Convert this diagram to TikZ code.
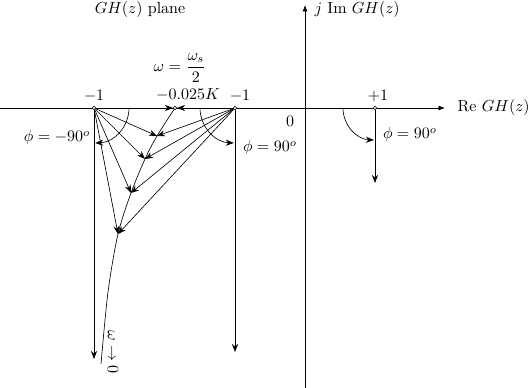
\documentclass[tikz,border=0pt]{standalone}
\usepackage{amsmath, amssymb}
\usetikzlibrary{arrows.meta}

\begin{document}
\begin{tikzpicture}[
  x=0.625pt, y=0.625pt,
  dot/.style={circle, draw, fill=white, inner sep=0pt, minimum size=2.2pt},
  edge/.style={-{Stealth[length=5pt, width=3.8pt]}},
  axis/.style={-{Latex[length=4pt, width=3pt]}}
]
\useasboundingbox (0,0) rectangle (528,-388);

% axes
\coordinate (xl) at (0,-108);
\coordinate (xr) at (445,-108);
\coordinate (yb) at (305,-388);
\coordinate (yt) at (305,-5);
\draw[axis] (xl) -- (xr);
\draw[axis] (yb) -- (yt);
\node[right] (re) at (452,-108) {Re $GH(z)$};
\node[right] (im) at (309,-10) {$j$ Im $GH(z)$};
\node (plane) at (140,-10) {$GH(z)$ plane};
\node (zero) at (290,-121) {$0$};

% points on the real axis
\coordinate (P1) at (157,-136);
\coordinate (P2) at (145,-159);
\coordinate (P3) at (131,-193);
\coordinate (P4) at (118,-234);
\coordinate (Q) at (108,-292);
\coordinate (E) at (101,-364);
\draw plot[smooth] coordinates {(175,-108) (P1) (P2) (P3) (P4) (Q) (E)};

\node[dot] (A) at (94,-108) {};
\node[dot] (B) at (235,-108) {};
\node[dot] (K) at (175,-108) {};
\node[dot] (U) at (375,-108) {};

\coordinate (Ad) at (94,-359);
\coordinate (Bd) at (235,-352);
\coordinate (Ud) at (375,-183);
\draw[edge] (A) -- (Ad);
\draw[edge] (B) -- (Bd);
\draw[edge] (U) -- (Ud);

\draw[edge] (A) -- (K);
\draw[edge] (B) -- (K);
\foreach \p in {P1, P2, P3, P4} {
  \draw[edge] (A) -- (\p);
  \draw[edge] (B) -- (\p);
}

% angle arcs
\draw[edge] (A.center) ++(35,0) arc[start angle=0, end angle=-88, radius=35];
\draw[edge] (B.center) ++(-35,0) arc[start angle=180, end angle=268, radius=35];
\draw[edge] (U.center) ++(-32,0) arc[start angle=180, end angle=268, radius=32];

% labels
\node (lA) at (94,-96) {$-1$};
\node (lK) at (188,-95) {$-0.025K$};
\node (lB) at (240,-96) {$-1$};
\node (lU) at (378,-96) {$+1$};
\node (ws) at (180,-68) {$\omega = \dfrac{\omega_s}{2}$};
\node (phA) at (57,-138) {$\phi = -90^o$};
\node (phB) at (270,-148) {$\phi = 90^o$};
\node (phU) at (410,-135) {$\phi = 90^o$};
\node[rotate=-90] (w0) at (113,-352) {$\omega \to 0$};
\end{tikzpicture}
\end{document}
